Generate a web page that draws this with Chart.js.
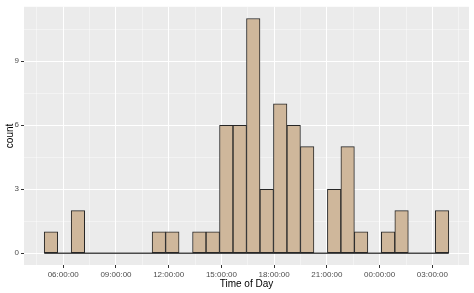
<!DOCTYPE html>
<html><head><meta charset="utf-8">
<script src="https://cdn.jsdelivr.net/npm/chart.js@4"></script>
<style>html,body{margin:0;padding:0;background:#fff}</style>
</head><body>
<canvas id="c" width="474" height="293"></canvas>
<script>
// ---- data ----
const binStartHour = 4.92;      // left edge of first bin (hours, continuing past 24)
const binWidthHours = 0.767;    // width of each bin (hours)
const counts = [1,0,2,0,0,0,0,0,1,1,0,1,1,6,6,11,3,7,6,5,0,3,5,1,0,1,2,0,0,2];
const xTickHours = [6,9,12,15,18,21,24,27];
const xTickLabels = ['06:00:00','09:00:00','12:00:00','15:00:00','18:00:00','21:00:00','00:00:00','03:00:00'];
const yTickValues = [0,3,6,9];
const yTickLabels = ['0','3','6','9'];

// ---- derived ----
const binEndHour = binStartHour + counts.length * binWidthHours;
const xSpan = binEndHour - binStartHour;
const xMin = binStartHour - 0.05 * xSpan, xMax = binEndHour + 0.05 * xSpan;
const yTop = Math.max(...counts);
const yMin = -0.05 * yTop, yMax = yTop * 1.05;

function withMinors(majors, lo, hi) {
  const step = majors[1] - majors[0];
  const out = [];
  for (let v = majors[0] - step / 2; v <= hi; v += step / 2) if (v >= lo) out.push(+v.toFixed(6));
  return out;
}
const xTicksAll = withMinors(xTickHours, xMin, xMax);
const yTicksAll = withMinors(yTickValues, yMin, yMax);
const isMajor = (arr, c) => !!(c && c.tick) && arr.some(m => Math.abs(m - c.tick.value) < 1e-6);

const barData = counts.map((c, i) => ({x: binStartHour + (i + 0.5) * binWidthHours, y: c}));
const baseLine = [{x: binStartHour, y: 0}, {x: binEndHour, y: 0}];

const FONT = "'Liberation Sans', Arial, sans-serif";

function gridOpts(majors) {
  return {
    offset: false,
    color: c => isMajor(majors, c) ? '#ffffff' : 'rgba(255,255,255,0.65)',
    lineWidth: c => isMajor(majors, c) ? 1 : 0.6,
    tickColor: c => isMajor(majors, c) ? '#333333' : 'rgba(0,0,0,0)',
    tickLength: 3, tickWidth: 1
  };
}
function labelFor(majors, labels) {
  return v => { const i = majors.findIndex(m => Math.abs(m - v) < 1e-6); return i >= 0 ? labels[i] : ''; };
}

new Chart(document.getElementById('c'), {
  data: {
    datasets: [
      {type: 'line', data: baseLine, borderColor: '#4a4a4a', borderWidth: 1.5, pointRadius: 0, order: 2},
      {type: 'bar', data: barData, backgroundColor: '#CFB79B', borderColor: '#262626', borderWidth: 1,
       borderSkipped: false, barPercentage: 1, categoryPercentage: 1, order: 1}
    ]
  },
  options: {
    responsive: false, animation: false, devicePixelRatio: 1,
    layout: {padding: {top: 5, right: 5, left: 0, bottom: 0}},
    plugins: {legend: {display: false}, tooltip: {enabled: false}},
    scales: {
      x: {
        type: 'linear', min: xMin, max: xMax, offset: false,
        afterBuildTicks: a => { a.ticks = xTicksAll.map(v => ({value: v})); },
        afterFit: s => { s.height = 28; },
        border: {display: false},
        grid: gridOpts(xTickHours),
        ticks: {
          autoSkip: false, maxRotation: 0, padding: 2, color: '#4D4D4D', font: {family: FONT, size: 8},
          callback: labelFor(xTickHours, xTickLabels)
        },
        title: {display: true, text: 'Time of Day', color: '#000', font: {family: FONT, size: 10}, padding: {top: 0, bottom: 3}}
      },
      y: {
        type: 'linear', min: yMin, max: yMax,
        afterBuildTicks: a => { a.ticks = yTicksAll.map(v => ({value: v})); },
        afterFit: s => { s.width = 24; },
        border: {display: false},
        grid: gridOpts(yTickValues),
        ticks: {
          autoSkip: false, padding: 2, color: '#4D4D4D', font: {family: FONT, size: 8},
          callback: labelFor(yTickValues, yTickLabels)
        },
        title: {display: true, text: 'count', color: '#000', font: {family: FONT, size: 10}, padding: {top: 4, bottom: 0}}
      }
    }
  },
  plugins: [{
    id: 'panelBg',
    beforeDraw(chart) {
      const {ctx, chartArea: a} = chart;
      ctx.save(); ctx.fillStyle = '#EBEBEB';
      ctx.fillRect(a.left, a.top, a.right - a.left, a.bottom - a.top);
      ctx.restore();
    }
  }]
});
</script>
</body></html>
